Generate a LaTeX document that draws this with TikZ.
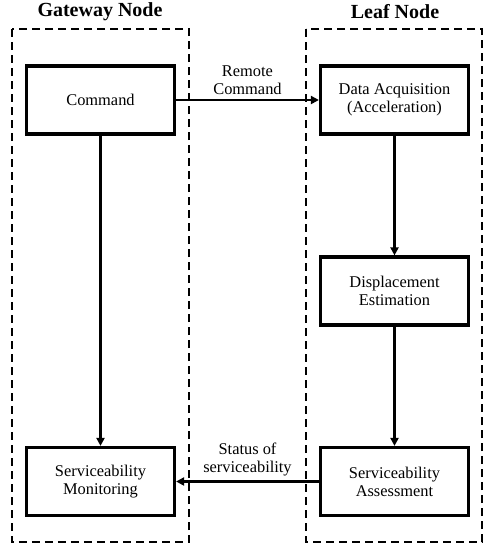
\documentclass[tikz,border=0pt]{standalone}
\usepackage{fontspec}
\setmainfont{Liberation Serif}
\usetikzlibrary{arrows.meta}
\begin{document}
\begin{tikzpicture}[x=1pt,y=-1pt,
  blk/.style={draw,line width=3.2pt,minimum width=148pt,minimum height=68pt,align=center,font=\fontsize{16.4}{18}\selectfont,inner sep=0pt},
  grp/.style={draw,dashed,line width=2pt,dash pattern=on 8pt off 5pt},
  arr/.style={line width=2.6pt,-{Triangle[length=8pt,width=8pt]}},
  lbl/.style={align=center,font=\fontsize{16.4}{18}\selectfont},
  ttl/.style={font=\bfseries\fontsize{20}{24}\selectfont}]
\useasboundingbox (0,0) rectangle (497,550);
\draw[grp] (12,29) rectangle (189,542);
\draw[grp] (306,29) rectangle (482,542);
\node[ttl] (tg) at (100,12) {Gateway Node};
\node[ttl] (tl) at (395,12) {Leaf Node};
\node[blk] (cmd) at (100.5,100) {Command};
\node[blk] (acq) at (394.5,100) {Data Acquisition\\(Acceleration)};
\node[blk] (disp) at (394.5,291) {Displacement\\Estimation};
\node[blk] (mon) at (100.5,481.5) {Serviceability\\Monitoring};
\node[blk] (ass) at (394.5,481.5) {Serviceability\\Assessment};
\draw[arr] (cmd) -- (acq) node[midway,above,lbl,yshift=1pt] {Remote\\Command};
\draw[arr] (ass) -- (mon) node[midway,above,lbl,yshift=1pt] {Status of\\serviceability};
\draw[arr] (cmd) -- (mon);
\draw[arr] (acq) -- (disp);
\draw[arr] (disp) -- (ass);
\end{tikzpicture}
\end{document}
